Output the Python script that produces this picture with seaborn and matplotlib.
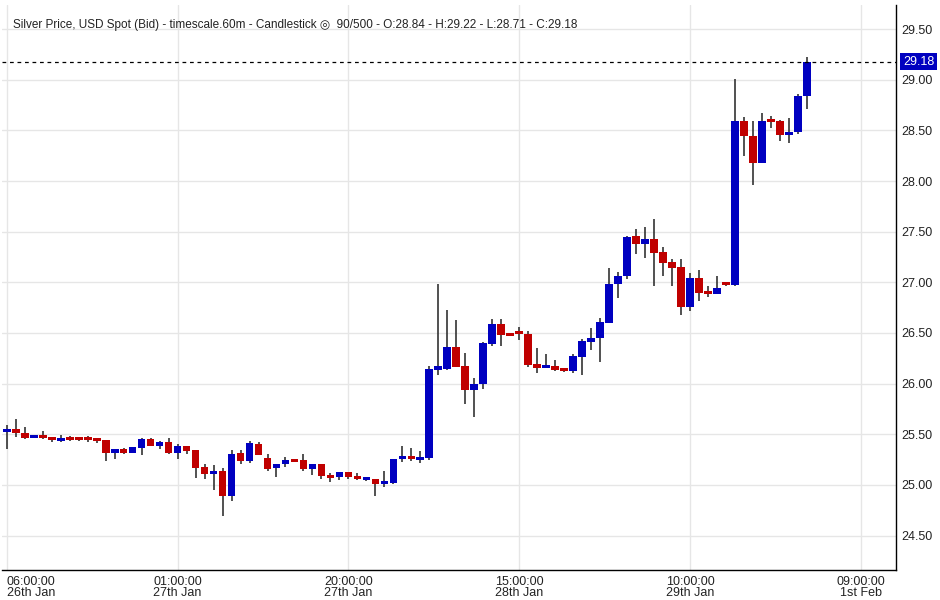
import numpy as np
import pandas as pd
import matplotlib
matplotlib.use("Agg")
import matplotlib.pyplot as plt
import seaborn as sns

# ----------------------------
# Data (hourly candles, 06:00 26th Jan -> 23:00 29th Jan)
# ----------------------------
opens = [25.52, 25.55, 25.51, 25.46, 25.47, 25.46, 25.43, 25.45, 25.45, 25.45,
         25.44, 25.44, 25.32, 25.35, 25.32, 25.36, 25.45, 25.38, 25.42, 25.32,
         25.38, 25.34, 25.18, 25.11, 25.14, 24.89, 25.32, 25.24, 25.40, 25.27,
         25.17, 25.21, 25.25, 25.25, 25.16, 25.21, 25.10, 25.08, 25.13, 25.08,
         25.05, 25.06, 25.01, 25.02, 25.26, 25.28, 25.25, 25.27, 26.13, 26.14,
         26.36, 26.17, 25.94, 26.00, 26.39, 26.59, 26.50, 26.52, 26.49, 26.19,
         26.15, 26.17, 26.14, 26.12, 26.26, 26.41, 26.45, 26.60, 26.98, 27.06,
         27.46, 27.38, 27.43, 27.30, 27.20, 27.15, 26.76, 27.04, 26.90, 26.88,
         26.98, 26.97, 28.59, 28.44, 28.18, 28.60, 28.59, 28.45, 28.48, 28.84]
highs = [25.59, 25.65, 25.57, 25.49, 25.53, 25.47, 25.49, 25.48, 25.46, 25.48,
         25.46, 25.44, 25.35, 25.36, 25.37, 25.46, 25.46, 25.43, 25.46, 25.40,
         25.38, 25.34, 25.21, 25.20, 25.17, 25.34, 25.34, 25.43, 25.42, 25.31,
         25.21, 25.28, 25.25, 25.31, 25.21, 25.21, 25.12, 25.13, 25.13, 25.12,
         25.06, 25.06, 25.14, 25.26, 25.38, 25.36, 25.33, 26.17, 26.98, 26.73,
         26.63, 26.30, 26.06, 26.41, 26.64, 26.64, 26.50, 26.56, 26.52, 26.35,
         26.29, 26.23, 26.14, 26.29, 26.44, 26.55, 26.65, 27.14, 27.10, 27.46,
         27.53, 27.55, 27.63, 27.35, 27.23, 27.23, 27.09, 27.12, 26.96, 27.06,
         26.99, 29.01, 28.63, 28.59, 28.67, 28.64, 28.60, 28.62, 28.86, 29.22]
lows = [25.35, 25.47, 25.45, 25.46, 25.45, 25.42, 25.42, 25.43, 25.43, 25.42,
        25.41, 25.24, 25.26, 25.31, 25.32, 25.30, 25.38, 25.35, 25.31, 25.26,
        25.31, 25.07, 25.06, 24.95, 24.69, 24.84, 25.21, 25.22, 25.30, 25.14,
        25.08, 25.18, 25.23, 25.14, 25.10, 25.06, 25.03, 25.05, 25.06, 25.05,
        25.04, 24.89, 24.98, 25.01, 25.23, 25.24, 25.22, 25.25, 26.09, 26.13,
        26.16, 25.80, 25.67, 25.95, 26.37, 26.37, 26.47, 26.43, 26.16, 26.10,
        26.15, 26.12, 26.11, 26.10, 26.09, 26.33, 26.21, 26.60, 26.85, 27.03,
        27.28, 27.24, 26.96, 27.06, 26.96, 26.68, 26.72, 26.82, 26.86, 26.88,
        26.96, 26.96, 28.25, 27.96, 28.18, 28.52, 28.40, 28.38, 28.46, 28.71]
closes = [25.55, 25.51, 25.46, 25.48, 25.46, 25.44, 25.45, 25.44, 25.44, 25.44,
          25.43, 25.32, 25.35, 25.32, 25.37, 25.45, 25.38, 25.42, 25.32, 25.38,
          25.33, 25.17, 25.11, 25.14, 24.89, 25.31, 25.24, 25.41, 25.30, 25.16,
          25.21, 25.25, 25.23, 25.16, 25.21, 25.09, 25.07, 25.13, 25.08, 25.06,
          25.06, 25.01, 25.02, 25.26, 25.29, 25.26, 25.28, 26.14, 26.17, 26.36,
          26.16, 25.94, 26.00, 26.40, 26.59, 26.48, 26.47, 26.49, 26.18, 26.15,
          26.17, 26.13, 26.12, 26.27, 26.42, 26.45, 26.61, 26.98, 27.06, 27.45,
          27.38, 27.43, 27.29, 27.19, 27.14, 26.76, 27.04, 26.89, 26.88, 26.94,
          26.97, 28.59, 28.44, 28.18, 28.59, 28.58, 28.45, 28.48, 28.84, 29.18]

tick_pos = [0, 19, 38, 57, 76, 95]
tick_labels = ["06:00:00\n26th Jan", "01:00:00\n27th Jan", "20:00:00\n27th Jan",
               "15:00:00\n28th Jan", "10:00:00\n29th Jan", "09:00:00\n1st Feb"]
y_ticks = [24.5, 25.0, 25.5, 26.0, 26.5, 27.0, 27.5, 28.0, 28.5, 29.0, 29.5]
last_price = 29.18

UP = "#0000c0"
DOWN = "#c00000"

df = pd.DataFrame({"open": opens, "high": highs, "low": lows, "close": closes})
df["idx"] = np.arange(len(df))
df["up"] = df["close"] >= df["open"]

sns.set_style("white")
plt.rcParams["font.family"] = ["Liberation Sans Narrow", "Liberation Sans", "DejaVu Sans"]

fig = plt.figure(figsize=(9.4, 6), dpi=100)
ax = fig.add_axes([0.002, 0.05, 0.951, 0.942])

# wicks
ax.vlines(df["idx"], df["low"], df["high"], color="#333333", linewidth=1.2, zorder=2)
# bodies
colors = np.where(df["up"], UP, DOWN)
bottoms = np.minimum(df["open"], df["close"])
heights = np.maximum(np.abs(df["close"] - df["open"]), 0.03)
ax.bar(df["idx"], heights, bottom=bottoms, width=0.85, color=colors,
       edgecolor="none", zorder=3)

ax.axhline(last_price, color="black", linestyle=(0, (3, 3)), linewidth=0.9, zorder=4)

ax.set_xlim(-0.55, 98.9)
ax.set_ylim(24.16, 29.74)
ax.yaxis.tick_right()
ax.set_yticks(y_ticks)
ax.set_yticklabels([f"{v:.2f}" for v in y_ticks], fontsize=9, color="#222222")
ax.set_xticks(tick_pos)
ax.set_xticklabels(tick_labels, fontsize=9, color="#222222", linespacing=0.9)
ax.get_xticklabels()[0].set_horizontalalignment("left")
ax.tick_params(axis="both", length=0, pad=4)
ax.grid(True, color="#e6e6e6", linewidth=1)
ax.set_axisbelow(True)

for side in ["left", "top"]:
    ax.spines[side].set_visible(False)
ax.spines["right"].set_color("black")
ax.spines["bottom"].set_color("black")
ax.spines["right"].set_linewidth(1)
ax.spines["bottom"].set_linewidth(1)

ax.text(0.012, 0.975,
        "Silver Price, USD Spot (Bid) - timescale.60m - Candlestick \u25CE  90/500 - O:28.84 - H:29.22 - L:28.71 - C:29.18",
        transform=ax.transAxes, fontsize=8.5, color="#222222", va="top", ha="left")

ax.text(1.008, last_price, f"{last_price:.2f}", transform=ax.get_yaxis_transform(),
        fontsize=9, color="white", va="center", ha="left",
        bbox=dict(boxstyle="square,pad=0.2", facecolor=UP, edgecolor="none"))

fig.savefig("out.png", dpi=100)
